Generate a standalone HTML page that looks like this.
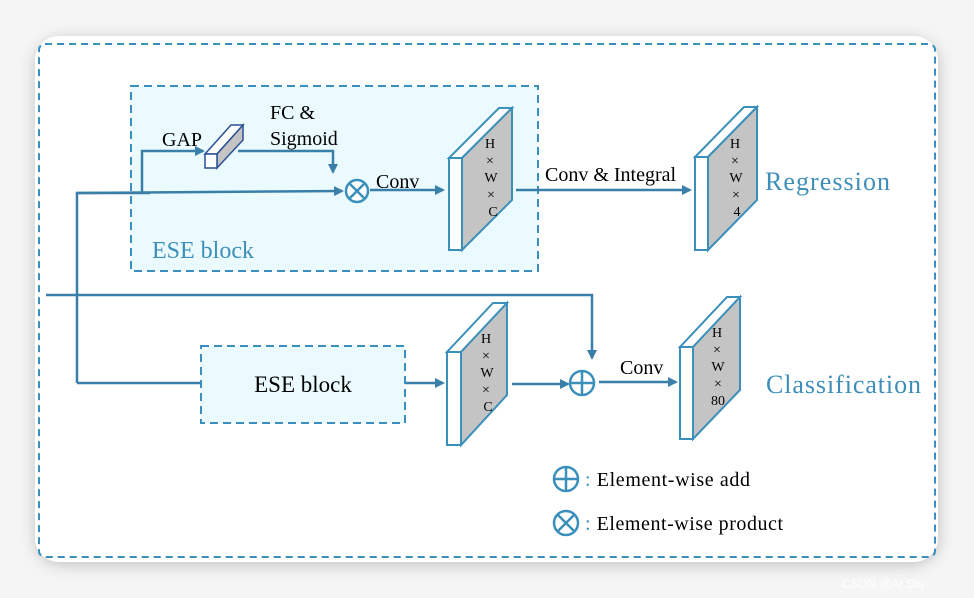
<!DOCTYPE html>
<html><head><meta charset="utf-8"><style>
body{margin:0;background:#f3f3f3;}
svg{display:block;font-family:"Liberation Serif",serif;}
</style></head><body>
<svg width="974" height="598" viewBox="0 0 974 598">
<defs>
<filter id="sh" x="-10%" y="-10%" width="120%" height="120%"><feGaussianBlur stdDeviation="8"/></filter>
<marker id="a" markerWidth="10" markerHeight="10" refX="8" refY="5" orient="auto" markerUnits="userSpaceOnUse"><path d="M0,0 L10,5 L0,10 z" fill="#3a7fa8"/></marker>
</defs>
<rect x="0" y="0" width="974" height="598" fill="#f5f5f5"/>
<rect x="36" y="40" width="902" height="524" rx="26" fill="#bbb" filter="url(#sh)"/>
<rect x="35" y="36" width="903" height="526" rx="24" fill="#fff"/>
<rect x="39" y="44" width="896" height="513" rx="6" fill="none" stroke="#3b8fbf" stroke-width="2" stroke-dasharray="7,5"/>
<rect x="131" y="86" width="407" height="185" fill="#ebfaff" stroke="#3b8fbf" stroke-width="2" stroke-dasharray="8,5"/>
<text x="152" y="258" font-size="24" fill="#3d8fb9">ESE block</text>
<g stroke="#3a7fa8" stroke-width="2.5" fill="none">
<polyline points="77,383 77,193 150,193" />
<line x1="77" y1="193" x2="342" y2="191" marker-end="url(#a)"/>
<polyline points="142,192 142,151 203,151" marker-end="url(#a)"/>
<polyline points="238,151 333,151 333,172" marker-end="url(#a)"/>
<line x1="370" y1="190" x2="443" y2="190" marker-end="url(#a)"/>
<line x1="516" y1="190" x2="690" y2="190" marker-end="url(#a)"/>
<polyline points="46,295 592,295 592,358" marker-end="url(#a)"/>
<line x1="77" y1="383" x2="201" y2="383"/>
<line x1="405" y1="383" x2="443" y2="383" marker-end="url(#a)"/>
<line x1="512" y1="384" x2="568" y2="384" marker-end="url(#a)"/>
<line x1="599" y1="382" x2="676" y2="382" marker-end="url(#a)"/>
</g>
<g stroke="#2a4f93" stroke-width="1.5">
<polygon points="205,154 217,154 243,125 231,125" fill="#fff"/>
<polygon points="217,154 243,125 243,140 217,168" fill="#c4c4c4"/>
<rect x="205" y="154" width="12" height="14" fill="#fff"/>
</g>
<text x="270" y="119" font-size="20">FC &amp;</text>
<text x="270" y="145" font-size="20">Sigmoid</text>
<text x="162" y="146" font-size="20">GAP</text>
<text x="376" y="188" font-size="20">Conv</text>
<text x="545" y="181" font-size="20">Conv &amp; Integral</text>
<text x="620" y="374" font-size="20">Conv</text>
<g stroke="#3a8fbb" stroke-width="2.5" fill="#fff">
<circle cx="357" cy="191" r="11"/>
<line x1="349" y1="183" x2="365" y2="199"/><line x1="365" y1="183" x2="349" y2="199"/>
<circle cx="582" cy="383" r="12"/>
<line x1="570" y1="383" x2="594" y2="383"/><line x1="582" y1="371" x2="582" y2="395"/>
<circle cx="566" cy="479" r="12"/>
<line x1="554" y1="479" x2="578" y2="479"/><line x1="566" y1="467" x2="566" y2="491"/>
<circle cx="566" cy="523" r="12"/>
<line x1="558" y1="515" x2="574" y2="531"/><line x1="574" y1="515" x2="558" y2="531"/>
</g>
<text x="585" y="486" font-size="20" textLength="165"><tspan fill="#3a8fbb">: </tspan>Element-wise add</text>
<text x="585" y="530" font-size="20" textLength="198"><tspan fill="#3a8fbb">: </tspan>Element-wise product</text>
<g stroke="#3a8fbb" stroke-width="2">
<polygon points="449,158 462,158 512,108 499,108" fill="#fff"/>
<polygon points="462,158 512,108 512,200 462,250" fill="#c4c4c4"/>
<rect x="449" y="158" width="13" height="92" fill="#fff"/>
<polygon points="695,157 708,157 757,107 744,107" fill="#fff"/>
<polygon points="708,157 757,107 757,200 708,250" fill="#c4c4c4"/>
<rect x="695" y="157" width="13" height="93" fill="#fff"/>
<polygon points="447,352 461,352 507,303 493,303" fill="#fff"/>
<polygon points="461,352 507,303 507,395 461,445" fill="#c4c4c4"/>
<rect x="447" y="352" width="14" height="93" fill="#fff"/>
<polygon points="680,347 693,347 740,297 727,297" fill="#fff"/>
<polygon points="693,347 740,297 740,390 693,439" fill="#c4c4c4"/>
<rect x="680" y="347" width="13" height="92" fill="#fff"/>
</g>
<g font-size="14" text-anchor="middle">
<text x="490" y="148">H</text><text x="490" y="165">×</text><text x="491" y="182">W</text><text x="491" y="199">×</text><text x="493" y="216">C</text>
<text x="735" y="148">H</text><text x="735" y="165">×</text><text x="736" y="182">W</text><text x="736" y="199">×</text><text x="737" y="216">4</text>
<text x="486" y="343">H</text><text x="486" y="360">×</text><text x="487" y="377">W</text><text x="486" y="394">×</text><text x="488" y="411">C</text>
<text x="717" y="337">H</text><text x="717" y="354">×</text><text x="718" y="371">W</text><text x="718" y="388">×</text><text x="718" y="405">80</text>
</g>
<text x="765" y="190" font-size="26" fill="#3d8fb9" textLength="125">Regression</text>
<text x="766" y="393" font-size="26" fill="#3d8fb9" textLength="155">Classification</text>
<rect x="201" y="346" width="204" height="77" fill="#ebfaff" stroke="#3b8fbf" stroke-width="2" stroke-dasharray="8,5"/>
<text x="303" y="392" font-size="23" text-anchor="middle">ESE block</text>
<text x="842" y="588" font-size="12" fill="#fff" font-family="Liberation Sans,sans-serif">CSDN @AI Stu</text>
</svg>
</body></html>
